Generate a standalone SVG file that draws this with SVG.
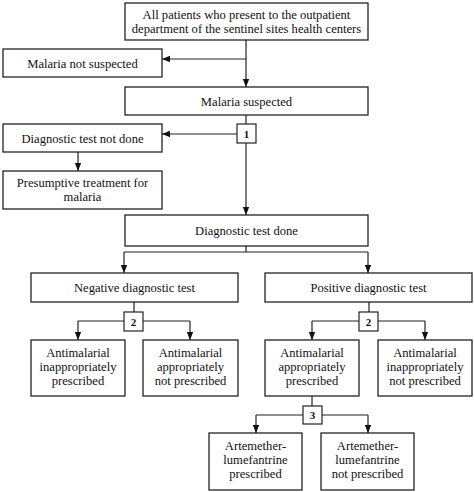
<svg xmlns="http://www.w3.org/2000/svg" width="474" height="492" viewBox="0 0 474 492">
<defs>
<marker id="ah" markerUnits="userSpaceOnUse" markerWidth="8" markerHeight="8" viewBox="0 0 8 8" refX="8" refY="4" orient="auto">
<path d="M0,0.8 L8,4 L0,7.2 Z" fill="#111"/>
</marker>
<style>
.box{fill:#fff;stroke:#222;stroke-width:1.3}
.nb{fill:#fff;stroke:#222;stroke-width:1.2}
.t{font-family:"Liberation Serif","Times New Roman",serif;font-size:12.6px;fill:#111;text-anchor:middle}
.n{font-family:"Liberation Serif","Times New Roman",serif;font-size:11px;font-weight:bold;fill:#111;text-anchor:middle}
.c{fill:none;stroke:#222;stroke-width:1.2}
.a{marker-end:url(#ah)}
</style>
</defs>
<rect width="474" height="492" fill="#fff"/>
<g id="connectors">
<path class="c a" d="M246,40 V87"/>
<path class="c a" d="M246,59 H162"/>
<path class="c" d="M246,115 V124"/>
<path class="c a" d="M237,134 H162"/>
<path class="c a" d="M78,152 V171"/>
<path class="c a" d="M246,143 V215"/>
<path class="c" d="M246,246 V252 M124,252 H368"/>
<path class="c a" d="M124,252 V273"/>
<path class="c a" d="M368,252 V273"/>
<path class="c" d="M134,302 V312"/>
<path class="c" d="M78,321 H124 M143,321 H190"/>
<path class="c a" d="M78,321 V340"/>
<path class="c a" d="M190,321 V340"/>
<path class="c" d="M369,302 V312"/>
<path class="c" d="M312,321 H359 M378,321 H425"/>
<path class="c a" d="M312,321 V340"/>
<path class="c a" d="M425,321 V340"/>
<path class="c" d="M312,396 V406"/>
<path class="c" d="M256,415 H303 M322,415 H368"/>
<path class="c a" d="M256,415 V433"/>
<path class="c a" d="M368,415 V433"/>
</g>
<g id="n-all">
<rect class="box" x="125" y="3" width="243" height="37"/>
<text class="t" x="246.5" y="19">All patients who present to the outpatient</text>
<text class="t" x="246.5" y="33">department of the sentinel sites health centers</text>
</g>
<g id="n-notsusp">
<rect class="box" x="3" y="49" width="159" height="28"/>
<text class="t" x="82.5" y="67.5">Malaria not suspected</text>
</g>
<g id="n-susp">
<rect class="box" x="125" y="87" width="243" height="28"/>
<text class="t" x="246.5" y="105.5">Malaria suspected</text>
</g>
<g id="b1">
<rect class="nb" x="237" y="124" width="19" height="19"/>
<text class="n" x="246.5" y="137.5">1</text>
</g>
<g id="n-notdone">
<rect class="box" x="3" y="124" width="159" height="28"/>
<text class="t" x="82.5" y="142.5">Diagnostic test not done</text>
</g>
<g id="n-presumptive">
<rect class="box" x="3" y="171" width="159" height="38"/>
<text class="t" x="82.5" y="187">Presumptive treatment for</text>
<text class="t" x="82.5" y="201">malaria</text>
</g>
<g id="n-done">
<rect class="box" x="125" y="215" width="243" height="31"/>
<text class="t" x="246.5" y="235">Diagnostic test done</text>
</g>
<g id="n-neg">
<rect class="box" x="31" y="273" width="207" height="29"/>
<text class="t" x="134.5" y="292">Negative diagnostic test</text>
</g>
<g id="n-pos">
<rect class="box" x="265" y="273" width="207" height="29"/>
<text class="t" x="368.5" y="292">Positive diagnostic test</text>
</g>
<g id="b2a">
<rect class="nb" x="124" y="312" width="19" height="19"/>
<text class="n" x="133.5" y="325.5">2</text>
</g>
<g id="b2b">
<rect class="nb" x="359" y="312" width="19" height="19"/>
<text class="n" x="368.5" y="325.5">2</text>
</g>
<g id="n-neg-inapp">
<rect class="box" x="31" y="340" width="94" height="56"/>
<text class="t" x="78" y="357">Antimalarial</text>
<text class="t" x="78" y="371">inappropriately</text>
<text class="t" x="78" y="385">prescribed</text>
</g>
<g id="n-neg-app">
<rect class="box" x="143" y="340" width="95" height="56"/>
<text class="t" x="190.5" y="357">Antimalarial</text>
<text class="t" x="190.5" y="371">appropriately</text>
<text class="t" x="190.5" y="385">not prescribed</text>
</g>
<g id="n-pos-app">
<rect class="box" x="265" y="340" width="94" height="56"/>
<text class="t" x="312" y="357">Antimalarial</text>
<text class="t" x="312" y="371">appropriately</text>
<text class="t" x="312" y="385">prescribed</text>
</g>
<g id="n-pos-inapp">
<rect class="box" x="378" y="340" width="94" height="56"/>
<text class="t" x="425" y="357">Antimalarial</text>
<text class="t" x="425" y="371">inappropriately</text>
<text class="t" x="425" y="385">not prescribed</text>
</g>
<g id="b3">
<rect class="nb" x="303" y="406" width="19" height="18"/>
<text class="n" x="312.5" y="419">3</text>
</g>
<g id="n-al-yes">
<rect class="box" x="209" y="433" width="93" height="57"/>
<text class="t" x="255.5" y="450">Artemether-</text>
<text class="t" x="255.5" y="464">lumefantrine</text>
<text class="t" x="255.5" y="478">prescribed</text>
</g>
<g id="n-al-no">
<rect class="box" x="321" y="433" width="93" height="57"/>
<text class="t" x="367.5" y="450">Artemether-</text>
<text class="t" x="367.5" y="464">lumefantrine</text>
<text class="t" x="367.5" y="478">not prescribed</text>
</g>
</svg>
